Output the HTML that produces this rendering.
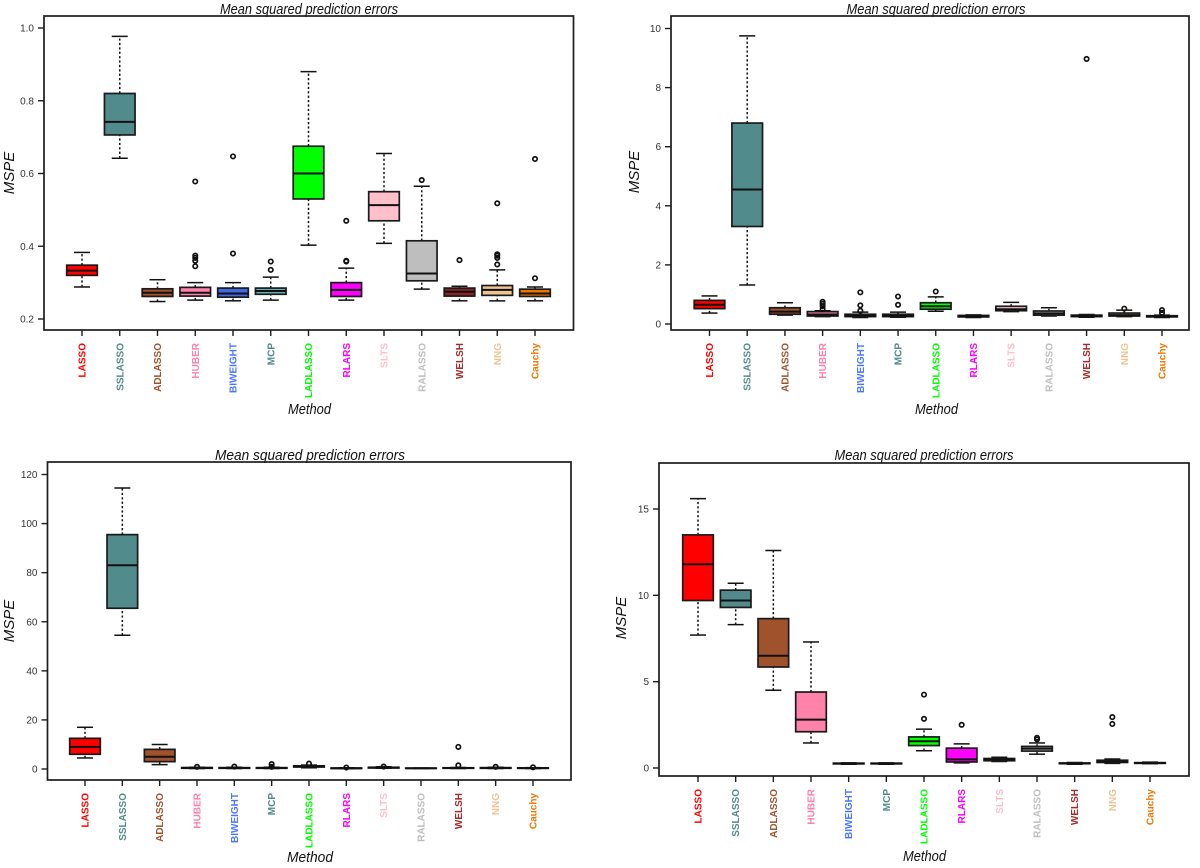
<!DOCTYPE html>
<html>
<head>
<meta charset="utf-8">
<title>Mean squared prediction errors</title>
<style>
html,body{margin:0;padding:0;background:#fff;width:1200px;height:868px;overflow:hidden}
svg{display:block;filter:blur(0.35px)}
text{font-family:"Liberation Sans",sans-serif}
</style>
</head>
<body>
<svg id="chart" xmlns="http://www.w3.org/2000/svg" width="1200" height="868" viewBox="0 0 1200 868"></svg>
<script>
// Shared categories and colours
const categories = ['LASSO','SSLASSO','ADLASSO','HUBER','BIWEIGHT','MCP','LADLASSO','RLARS','SLTS','RALASSO','WELSH','NNG','Cauchy'];
const colors = ['#ff0000','#528b8b','#a0522d','#ff82ab','#4876ff','#528b8b','#00ff00','#ff00ff','#ffc0cb','#bebebe','#a52a2a','#eec591','#ee7600'];
const boxFills = ['#ff0000','#528b8b','#a0522d','#ff82ab','#4169e1','#6ab0b8','#00ff00','#ff00ff','#ffc0cb','#bebebe','#8b2323','#eec591','#ee7600'];

// Each row: whisker low, Q1, median, Q3, whisker high
const stats1 = [
 [.288,.32,.333,.348,.383],[.642,.706,.742,.82,.977],[.248,.262,.272,.283,.308],[.252,.263,.272,.287,.30],
 [.25,.26,.27,.285,.30],[.252,.268,.277,.285,.315],[.403,.53,.6,.675,.88],[.252,.262,.28,.3,.34],
 [.408,.47,.513,.55,.655],[.282,.305,.325,.415,.565],[.25,.263,.275,.285,.29],[.25,.265,.28,.292,.335],[.25,.262,.27,.282,.288]];
const outliers1 = [[],[],[],[.345,.36,.368,.374,.578],[.38,.647],[.335,.358],[],[.358,.36,.47],[],[.582],[.362],[.35,.368,.374,.378,.518],[.312,.64]];
const ticks1 = [0.2,0.4,0.6,0.8,1.0];
const tickLabels1 = ['0.2','0.4','0.6','0.8','1.0'];

const stats2 = [
 [.37,.52,.65,.8,.95],[1.32,3.3,4.55,6.8,9.75],[.3,.33,.42,.55,.72],[.25,.27,.32,.42,.45],
 [.22,.25,.28,.33,.4],[.23,.25,.28,.33,.4],[.43,.5,.6,.72,.92],[.22,.24,.26,.29,.31],
 [.42,.45,.5,.6,.73],[.27,.3,.36,.44,.55],[.23,.25,.27,.3,.32],[.25,.27,.3,.37,.47],[.22,.24,.26,.28,.3]];
const outliers2 = [[],[],[],[.5,.6,.68,.75],[.45,.63,1.07],[.65,.93],[1.1],[],[],[],[8.97],[.52],[.38,.47]];
const ticks2 = [0,2,4,6,8,10];
const tickLabels2 = ['0','2','4','6','8','10'];

const stats3 = [
 [4.5,6,9,12.5,17],[54.5,65.5,83,95.5,114.5],[1.8,3,5,8,10],[.2,.3,.4,.6,.7],
 [.2,.3,.4,.55,.7],[.2,.3,.4,.55,.7],[.5,.8,1,1.3,1.6],[.15,.2,.3,.4,.5],
 [.3,.4,.6,.7,.9],[.2,.25,.3,.35,.4],[.2,.3,.4,.5,.6],[.2,.3,.4,.55,.7],[.2,.3,.35,.45,.55]];
const outliers3 = [[],[],[],[.9],[1],[.9,2],[2.2],[.6],[1],[],[1.5,9],[.9],[.7]];
const ticks3 = [0,20,40,60,80,100,120];
const tickLabels3 = ['0','20','40','60','80','100','120'];

const stats4 = [
 [7.7,9.7,11.8,13.5,15.6],[8.3,9.3,9.7,10.3,10.7],[4.5,5.85,6.5,8.65,12.6],[1.45,2.1,2.8,4.4,7.3],
 [.22,.24,.26,.28,.3],[.22,.24,.26,.28,.3],[1.0,1.3,1.55,1.8,2.25],[.3,.35,.5,1.15,1.4],
 [.38,.42,.5,.55,.62],[.8,.98,1.12,1.25,1.45],[.22,.25,.27,.29,.32],[.27,.32,.38,.45,.52],[.25,.27,.29,.31,.34]];
const outliers4 = [[],[],[],[],[],[],[2.85,4.25],[2.5],[],[1.65,1.75],[],[2.55,2.95],[]];
const ticks4 = [0,5,10,15];
const tickLabels4 = ['0','5','10','15'];

const NS = 'http://www.w3.org/2000/svg';
const INK = '#1c1c1c';
const root = document.getElementById('chart');

function el(parent, tag, attrs, txt) {
  const e = document.createElementNS(NS, tag);
  for (const k in attrs) e.setAttribute(k, attrs[k]);
  if (txt !== undefined) e.textContent = txt;
  parent.appendChild(e);
  return e;
}

function drawPanel(p) {
  const g = el(root, 'g', {});
  
  

  const yScale = v => p.y0 + (v - p.v0) * (p.y1 - p.y0) / (p.v1 - p.v0);
  const xScale = i => p.x0 + i * (p.xN - p.x0) / (categories.length - 1);

  // Titles
  const title = el(g, 'text', {x: p.titleX, y: p.titleY, 'text-anchor': 'middle', 'font-style': 'italic', 'font-size': 15, fill: '#111', textLength: p.titleLen, lengthAdjust: 'spacingAndGlyphs'}, 'Mean squared prediction errors');
  
  

  const xt = el(g, 'text', {x: p.xlabX, y: p.xlabY, 'text-anchor': 'middle', 'font-style': 'italic', 'font-size': 15, fill: '#111', textLength: p.xlabLen, lengthAdjust: 'spacingAndGlyphs'}, 'Method');
  
  

  const yt = el(g, 'text', {transform: 'translate(' + p.ylabX + ',' + p.ylabY + ') rotate(-90)', 'text-anchor': 'middle', 'font-style': 'italic', 'font-size': 15, fill: '#111'}, 'MSPE');
  
  

  // Frame
  const frame = el(g, 'rect', {x: p.left, y: p.top, width: p.right - p.left, height: p.bottom - p.top, fill: 'none', stroke: INK, 'stroke-width': 1.7});
  
  

  // Y axis
  p.ticks.forEach((t, i) => {
    const ty = yScale(t);
    const tick = el(g, 'line', {x1: p.left - 6, x2: p.left, y1: ty, y2: ty, stroke: INK, 'stroke-width': 1.4});
    
    
    const lab = el(g, 'text', {x: p.left - 10, y: ty + 3.5, 'text-anchor': 'end', 'font-size': 10, fill: '#333'}, p.tickLabels[i]);
    
    
  });

  // Boxes
  categories.forEach((c, i) => {
    const x = xScale(i);
    const s = p.stats[i];
    const bg = el(g, 'g', {});
    
    

    const tick = el(g, 'line', {x1: x, x2: x, y1: p.bottom, y2: p.bottom + 6, stroke: INK, 'stroke-width': 1.4});
    
    

    const lab = el(g, 'text', {transform: 'translate(' + (x + 3.5) + ',' + p.labelTop + ') rotate(-90)', 'text-anchor': 'end', 'font-size': 10, 'font-weight': 'bold', fill: colors[i]}, c);
    
    

    const whisker = {stroke: '#111', 'stroke-width': 1.5, 'stroke-dasharray': '2.2 2.2'};
    const wl = el(bg, 'line', Object.assign({x1: x, x2: x, y1: yScale(s[0]), y2: yScale(s[1])}, whisker));
    
    
    const wh = el(bg, 'line', Object.assign({x1: x, x2: x, y1: yScale(s[3]), y2: yScale(s[4])}, whisker));
    
    

    [s[0], s[4]].forEach(v => {
      const cap = el(bg, 'line', {x1: x - 8, x2: x + 8, y1: yScale(v), y2: yScale(v), stroke: '#111', 'stroke-width': 1.5});
      
      
    });

    const rect = el(bg, 'rect', {x: x - 15.3, y: yScale(s[3]), width: 30.6, height: yScale(s[1]) - yScale(s[3]), fill: boxFills[i], stroke: '#1a1a1a', 'stroke-width': 1.7});
    
    

    const med = el(bg, 'line', {x1: x - 15.3, x2: x + 15.3, y1: yScale(s[2]), y2: yScale(s[2]), stroke: '#111', 'stroke-width': 2});
    
    

    p.outliers[i].forEach(v => {
      const o = el(bg, 'circle', {cx: x, cy: yScale(v), r: 2.2, fill: 'none', stroke: '#111', 'stroke-width': 1.7});
      
      
    });
  });
}

drawPanel({id: 1, stats: stats1, outliers: outliers1, ticks: ticks1, tickLabels: tickLabels1,
  left: 44, right: 573.5, top: 16, bottom: 330, v0: 0.2, y0: 319, v1: 1.0, y1: 28, x0: 82, xN: 535, labelTop: 343,
  titleX: 309, titleY: 14, titleLen: 178, xlabX: 309.5, xlabY: 414, xlabLen: 43, ylabX: 14, ylabY: 173});
drawPanel({id: 2, stats: stats2, outliers: outliers2, ticks: ticks2, tickLabels: tickLabels2,
  left: 671, right: 1189, top: 16, bottom: 330, v0: 0, y0: 324, v1: 10, y1: 28.5, x0: 709.5, xN: 1162, labelTop: 343,
  titleX: 936, titleY: 14, titleLen: 179, xlabX: 936.5, xlabY: 414, xlabLen: 43, ylabX: 639, ylabY: 172});
drawPanel({id: 3, stats: stats3, outliers: outliers3, ticks: ticks3, tickLabels: tickLabels3,
  left: 47.5, right: 571, top: 462, bottom: 780, v0: 0, y0: 769, v1: 120, y1: 474.5, x0: 85, xN: 533, labelTop: 793,
  titleX: 310, titleY: 460, titleLen: 190, xlabX: 310, xlabY: 862, xlabLen: 46, ylabX: 14, ylabY: 621});
drawPanel({id: 4, stats: stats4, outliers: outliers4, ticks: ticks4, tickLabels: tickLabels4,
  left: 659, right: 1189, top: 463, bottom: 776, v0: 0, y0: 768, v1: 15, y1: 509, x0: 698, xN: 1150, labelTop: 789,
  titleX: 924, titleY: 460, titleLen: 179, xlabX: 924.5, xlabY: 861, xlabLen: 43, ylabX: 626, ylabY: 618});
</script>
</body>
</html>
